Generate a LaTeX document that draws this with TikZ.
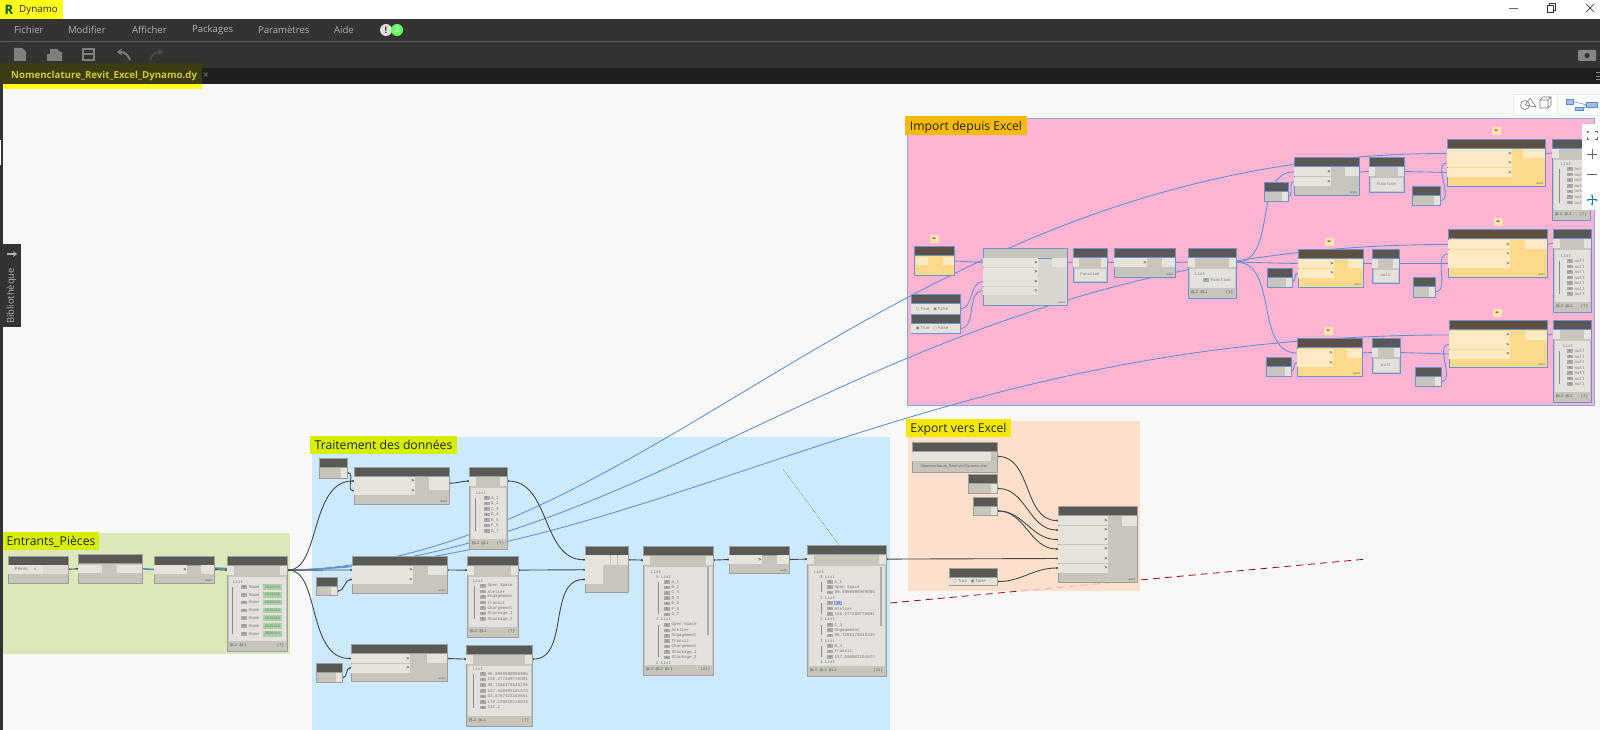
\documentclass[tikz,border=0pt]{standalone}
\usepackage{fontspec}
\setmainfont{Open Sans}
\setmonofont{Liberation Mono}
\newfontfamily\symbfont{DejaVu Sans}
\usetikzlibrary{positioning,arrows.meta}
\pgfdeclarelayer{wires}
\pgfsetlayers{wires,main}
\definecolor{canvasgrey}{HTML}{F8F8F8}
\definecolor{chromedark}{HTML}{333333}
\definecolor{headgrey}{HTML}{5A5855}
\definecolor{headbrown}{HTML}{5C5142}
\definecolor{bodygrey}{HTML}{C8C5BC}
\definecolor{rowlight}{HTML}{E6E3DD}
\definecolor{panelgrey}{HTML}{E4E1DC}
\definecolor{selblue}{HTML}{6C93D0}
\definecolor{wiredark}{HTML}{45484B}
\definecolor{wireblue}{HTML}{5A90D2}
\definecolor{warnbody}{HTML}{FDD98E}
\definecolor{warnrow}{HTML}{FDEAC2}
\definecolor{hlyellow}{HTML}{FFFF1A}
\definecolor{monotxt}{HTML}{77756F}
\definecolor{entrantsfill}{HTML}{DCE8B8}
\definecolor{traitfill}{HTML}{CDEAFD}
\definecolor{exportfill}{HTML}{FEDAC0}
\definecolor{importfill}{HTML}{FEB4D2}
\definecolor{titleA}{HTML}{D8EE00}
\definecolor{titleB}{HTML}{F5E800}
\definecolor{titleC}{HTML}{F6BB00}
\definecolor{olivetab}{HTML}{3C3C12}
\newcommand{\fs}[1]{\fontsize{#1}{#1}\selectfont}
\newcommand{\radoff}{{\symbfont ○}}
\newcommand{\radon}{{\symbfont ◉}}
\tikzset{
    box/.style n args={4}{at={(#1,#2)}, anchor=north west, minimum width={((#3)-(#1))*1pt}, minimum height={((#4)-(#2))*1pt}},
    dynbody/.style={draw=black!38, line width=.7pt, fill=bodygrey, inner sep=0pt, outer sep=0pt},
    selbody/.style={dynbody, draw=selblue},
    warnnode/.style={dynbody, draw=selblue, fill=warnbody},
    dynhead/.style={fill=headgrey, inner sep=0pt, outer sep=0pt},
    dynrow/.style={fill=rowlight, inner sep=0pt, outer sep=0pt, font=\fs{4}\ttfamily, text=monotxt},
    dynin/.style={dynrow, label={[font=\fs{5}\bfseries, text=black!75, inner sep=.3pt, anchor=east]east:>}},
    panel/.style={fill=panelgrey, draw=black!12, line width=.3pt, inner sep=0pt, outer sep=0pt, font=\fs{4}\ttfamily, text=monotxt},
    tinytxt/.style={inner sep=0pt, outer sep=0pt, font=\fs{4}\ttfamily, text=black!65},
    listtxt/.style={inner sep=0pt, outer sep=0pt, font=\fs{4.2}\ttfamily, text=monotxt},
    chip/.style={fill=black!33, inner sep=0pt, outer sep=0pt, minimum width=6pt, minimum height=3.6pt, font=\fs{2.6}\ttfamily, text=black!70},
    listbar/.style={draw=black!45, line width=.5pt},
    grouprect/.style={inner sep=0pt, outer sep=0pt},
    grouptitle/.style={inner sep=0pt, outer sep=0pt, font=\fs{12.2}, text=black!85, text depth=0pt},
    wire/.style={line width=.9pt, color=wiredark, {Circle[length=2pt]}-{Circle[length=2pt]}},
    bluewire/.style={line width=.85pt, color=wireblue},
    warnmark/.style={fill=warnrow!70!warnbody, inner sep=0pt, outer sep=0pt, minimum width=9pt, minimum height=8pt, font=\fs{7}\bfseries},
    menutxt/.style={inner sep=0pt, outer sep=0pt, anchor=west, font=\fs{9.6}, text=black!30},
    toolicon/.style={fill=black!50, draw=none}
}
\newcommand{\dynbox}[6][dynbody]{%
    \node[#1, box={#3}{#4}{#5}{#6}] (#2) {};
    \node[#1, dynhead, box={#3}{#4}{#5}{#4+9.6}] (#2h) {};
}
\newcommand{\warnbox}[5]{%
    \node[warnnode, box={#2}{#3}{#4}{#5}] (#1) {};
    \node[warnnode, fill=headbrown, box={#2}{#3}{#4}{#3+9.6}] (#1h) {};
}
\newcommand{\dynsmall}[6][dynbody]{%
    \dynbox[#1]{#2}{#3}{#4}{#5}{#6}
    \node[dynrow, box={#5-6}{#4+10}{#5}{#6}] (#2o) {};
}
\newcommand{\dynbool}[7][dynbody]{%
    \dynbox[#1]{#2}{#3}{#4}{#5}{#6}
    \node[dynrow, font=\fs{4.2}, box={#3}{#4+10}{#5-7}{#6}] (#2r) {#7};
    \node[dynrow, box={#5-7}{#4+10}{#5}{#6}] (#2o) {};
}
\newcommand{\dynfunc}[6]{%
    \dynbox[selbody]{#1}{#2}{#3}{#4}{#5}
    \node[dynrow, box={#2}{#3+10}{#2+6}{#3+19}] (#1i) {};
    \node[dynrow, box={#4-6}{#3+10}{#4}{#3+19}] (#1o) {};
    \node[panel, box={#2+2}{#3+21}{#4-2}{#5-2}] (#1p) {#6};
}
\newcommand{\dynwatch}[8][dynbody]{%
    \dynbox[#1]{#2}{#3}{#4}{#5}{#6}
    \node[dynrow, box={#3}{#4+9.6}{#3+7}{#4+18.6}] (#2i) {};
    \node[dynrow, box={#5-7}{#4+9.6}{#5}{#4+18.6}] (#2o) {};
    \node[panel, box={#3+2}{#4+21}{#5-2}{#6-11}] (#2p) {};
    \node[tinytxt, anchor=west] (#2f) at ({#3+3},{#6-5.5}) {#7};
    \node[tinytxt, anchor=east] (#2n) at ({#5-3},{#6-5.5}) {(#8)};
}
\newcommand{\listrows}[5]{%
    \foreach \lab [count=\i from 0] in {#5} {
        \node[chip] (#1c\i) at (#2,{#3+\i*#4}) {\i};
        \node[listtxt, right=1.5pt of #1c\i] (#1t\i) {\lab};
    }
}
\newcommand{\autotag}[1]{%
    \node[tinytxt, font=\fs{3}\ttfamily, anchor=south east, xshift=-1.5pt, yshift=1.5pt] (#1tag) at (#1.south east) {auto};
}

\begin{document}
\begin{tikzpicture}[x=1pt, y=-1pt]
    \useasboundingbox (0,0) rectangle (1600,730);

    \begin{pgfonlayer}{wires}
        \node[grouprect, fill=canvasgrey, box={0}{84}{1600}{730}] (canvas) {};
        \coordinate (redA) at (890,603);
        \coordinate (redB) at (1367,559);
        \draw[line width=.8pt, color=red!65!black, dash pattern=on 7pt off 5pt] (redA) -- (redB);
        \node[grouprect, fill=entrantsfill, box={3}{533}{290}{654}] (grpE) {};
        \node[grouprect, fill=traitfill, box={312}{437}{890}{730}] (grpT) {};
        \node[grouprect, fill=exportfill, fill opacity=.8, box={908}{421}{1140}{591}] (grpX) {};
        \node[grouprect, fill=importfill, draw=selblue!80, line width=.7pt, box={907}{118}{1594}{405}] (grpI) {};
    \end{pgfonlayer}

    \node[grouptitle, fill=titleA, box={3}{532}{99}{550}] (grpEt) {Entrants\_Pièces};
    \node[grouptitle, fill=titleA, box={310}{436}{457}{454}] (grpTt) {Traitement des données};
    \node[grouptitle, fill=titleB, box={906}{419}{1011}{437}] (grpXt) {Export vers Excel};
    \node[grouptitle, fill=titleC, box={905}{116}{1027}{135}] (grpIt) {Import depuis Excel};

    % Entrants
    \dynbox{n1}{8}{556}{68}{583}
    \node[dynrow, font=\fs{4.4}, box={8}{564.5}{43}{574}] (n1a) {Pièces\hspace{6pt}v};
    \node[dynrow, fill=rowlight!70!bodygrey, box={43}{564.5}{68}{574}] (n1o) {};
    \dynbox{n2}{78}{554}{142}{583}
    \node[dynrow, box={78}{564.5}{102}{573}] (n2a) {};
    \node[dynrow, box={117}{564.5}{142}{573}] (n2o) {};
    \dynbox{n3}{154}{556}{214}{583}
    \node[dynin, box={154}{565}{187}{574}] (n3a) {};
    \node[dynrow, box={201}{565}{214}{574}] (n3o) {};
    \autotag{n3}
    \dynwatch{n4}{227}{556}{287}{651}{@L2 @L1}{7}
    \node[listtxt, anchor=west] (n4l) at (233,582) {List};
    \foreach \lab [count=\i from 0] in {2629333,2629336,2629339,2629342,2629345,2629348,2629351} {
        \node[chip] (n4c\i) at (244,{587+\i*7.8}) {\i};
        \node[listtxt, right=2pt of n4c\i] (n4t\i) {Room};
        \node[listtxt, fill=green!50!black!35!white, text=black!55, minimum width=19pt, minimum height=5.6pt, font=\fs{3.6}\ttfamily] (n4g\i) at (272.5,{587+\i*7.8}) {\lab};
    }
    \draw[listbar] ([xshift=-9pt]n4c0.west) -- ([xshift=-9pt]n4c6.west);

    % Traitement
    \dynsmall{t1}{319}{458}{347}{478}
    \dynbox{t2}{354}{467}{449}{504}
    \node[dynin, box={354}{476.5}{415}{485.5}] (t2a) {};
    \node[dynin, box={354}{486}{415}{495}] (t2b) {};
    \node[dynrow, box={429}{476.5}{449}{490}] (t2o) {};
    \autotag{t2}
    \dynwatch{t3}{469}{467}{507}{549}{@L2 @L1}{7}
    \node[listtxt, anchor=west] (t3l) at (476,493) {List};
    \listrows{t3}{486.5}{498}{5.5}{A\_1,B\_2,C\_3,D\_4,E\_5,F\_6,G\_7}
    \draw[listbar] ([xshift=-8pt]t3c0.west) -- ([xshift=-8pt]t3c6.west);

    \dynsmall{t4}{316}{577}{337}{595}
    \dynbox{t5}{352}{556}{447}{593}
    \node[dynin, box={352}{565.5}{413}{574.5}] (t5a) {};
    \node[dynin, box={352}{575}{413}{584}] (t5b) {};
    \node[dynrow, box={428}{565.5}{447}{574.5}] (t5o) {};
    \autotag{t5}
    \dynwatch{t6}{467}{556}{518}{637}{@L2 @L1}{7}
    \node[listtxt, anchor=west] (t6l) at (473,581) {List};
    \listrows{t6}{483}{586}{5.5}{Open Space,Atelier,Engagement,Transit,Chargement,Stockage\_1,Stockage\_2}
    \draw[listbar] ([xshift=-6pt]t6c0.west) -- ([xshift=-6pt]t6c6.west);

    \dynsmall{t7}{316}{663}{342}{682}
    \dynbox{t8}{351}{644}{447}{681}
    \node[dynin, box={351}{654}{410}{663}] (t8a) {};
    \node[dynin, box={351}{663.5}{410}{672.5}] (t8b) {};
    \node[dynrow, box={427}{654}{447}{663}] (t8o) {};
    \autotag{t8}
    \dynwatch{t9}{466}{645}{532}{726}{@L2 @L1}{7}
    \node[listtxt, anchor=west] (t9l) at (473,669) {List};
    \listrows{t9}{483}{674}{5.6}{99.9999999999995,158.277289770891,98.7286178545235,157.500983101573,63.8787323163851,178.129829128818,131.2}
    \draw[listbar] ([xshift=-7pt]t9c0.west) -- ([xshift=-7pt]t9c6.west);

    \dynbox{j1}{585}{546}{628}{592}
    \node[dynrow, box={585}{555}{603}{564.5}] (j1a) {};
    \node[dynrow, box={585}{565}{603}{574.5}] (j1b) {};
    \node[dynrow, box={585}{575}{603}{584}] (j1c) {};
    \node[dynrow, box={603}{555}{610}{564.5}] (j1x) {};
    \node[dynrow, box={611}{555}{617}{564.5}] (j1y) {};
    \node[dynrow, box={618}{555}{628}{564.5}] (j1o) {};

    \dynwatch{j2}{643}{546}{713}{675}{@L3 @L2 @L1}{21}
    \node[fill=black!32, inner sep=0pt, box={707}{567}{709}{635}] (j2s) {};
    \node[listtxt, anchor=west] (j2l) at (651,572) {List};
    \node[listtxt, anchor=west] (j2l0) at (656,577) {0 List};
    \listrows{j2a}{667}{582}{5.4}{A\_1,B\_2,C\_3,D\_4,E\_5,F\_6,G\_7}
    \node[listtxt, anchor=west] (j2l1) at (656,619) {1 List};
    \listrows{j2b}{667}{625}{5.4}{Open Space,Atelier,Engagement,Transit,Chargement,Stockage\_1,Stockage\_2}
    \node[listtxt, anchor=west] (j2l2) at (656,663) {2 List};
    \draw[listbar] ([xshift=-6pt]j2ac0.west) -- ([xshift=-6pt]j2ac6.west);
    \draw[listbar] ([xshift=-6pt]j2bc0.west) -- ([xshift=-6pt]j2bc6.west);

    \dynbox{j3}{729}{546}{789}{573}
    \node[dynin, box={729}{555}{762}{564}] (j3a) {};
    \node[dynrow, box={777}{555}{789}{564}] (j3o) {};
    \autotag{j3}

    \dynwatch{j4}{807}{545}{886}{676}{@L3 @L2 @L1}{21}
    \node[fill=black!32, inner sep=0pt, box={880}{567}{882}{626}] (j4s) {};
    \node[listtxt, anchor=west] (j4l) at (814,572) {List};
    \node[listtxt, anchor=west] (j4l0) at (820,577) {0 List};
    \listrows{j4a}{830}{582}{5.2}{A\_1,Open Space,99.9999999999995}
    \node[listtxt, anchor=west] (j4l1) at (820,598) {1 List};
    \listrows{j4b}{830}{603}{5.5}{A\_2,Atelier,158.277289770891}
    \node[listtxt, fill=selblue!90, text=white, minimum width=8pt] (j4hl) at (j4bt0) {A\_2};
    \node[listtxt, anchor=west] (j4l2) at (820,619) {2 List};
    \listrows{j4c}{830}{625}{5.2}{C\_3,Engagement,98.7286178545235}
    \node[listtxt, anchor=west] (j4l3) at (820,641) {3 List};
    \listrows{j4d}{830}{646}{5.4}{D\_4,Transit,157.500983101573}
    \node[listtxt, anchor=west] (j4l4) at (820,662) {4 List};
    \draw[listbar] ([xshift=-6pt]j4ac0.west) -- ([xshift=-6pt]j4ac2.west);
    \draw[listbar] ([xshift=-6pt]j4bc0.west) -- ([xshift=-6pt]j4bc2.west);
    \draw[listbar] ([xshift=-6pt]j4cc0.west) -- ([xshift=-6pt]j4cc2.west);
    \draw[listbar] ([xshift=-6pt]j4dc0.west) -- ([xshift=-6pt]j4dc2.west);

    % Export
    \dynbox{e1}{912}{442}{997}{472}
    \node[dynrow, box={912}{452}{991}{461}] (e1a) {};
    \node[dynrow, fill=rowlight!85!black, box={991}{452}{997}{461}] (e1o) {};
    \node[tinytxt, font=\fs{3.8}] (e1t) at (954,466.5) {\textbackslash Nomenclature\_Revit via Dynamo.xlsx};
    \dynsmall{e2}{968}{474}{997}{493}
    \dynsmall{e3}{973}{497}{997}{515}
    \dynbool{e4}{949}{568}{997}{585}{\radoff\ True\hspace{4pt}\radon\ False}
    \dynbox{e5}{1058}{506}{1137}{582}
    \node[dynin, box={1058}{516}{1108}{525}] (e5a) {};
    \node[dynin, box={1058}{525.5}{1108}{534.5}] (e5b) {};
    \node[dynin, box={1058}{535}{1108}{544}] (e5c) {};
    \node[dynin, box={1058}{544.5}{1108}{553.5}] (e5d) {};
    \node[dynin, box={1058}{554}{1108}{563}] (e5e) {};
    \node[dynin, box={1058}{563.5}{1108}{572.5}] (e5f) {};
    \node[dynrow, box={1122}{516}{1137}{526}] (e5o) {};
    \autotag{e5}

    % Import
    \warnbox{i1}{914}{246}{954}{275}
    \node[warnmark] (i1w) at (934,239) {--};
    \node[dynrow, fill=warnrow, box={916}{257}{928}{265}] (i1a) {};
    \node[dynrow, fill=warnrow, box={943}{257}{954}{265}] (i1o) {};
    \dynbool[selbody]{i2}{911}{294}{960}{314}{\radoff\ True\hspace{4pt}\radon\ False}
    \dynbool[selbody]{i3}{911}{314}{960}{333}{\radon\ True\hspace{4pt}\radoff\ False}
    \node[selbody, fill=bodygrey!70!white, box={983}{248}{1067}{305}] (i4) {};
    \node[selbody, fill=bodygrey, box={983}{248}{1067}{258}] (i4h) {};
    \node[dynin, box={983}{258}{1038}{267}] (i4a) {};
    \node[dynin, box={983}{267.5}{1038}{276.5}] (i4b) {};
    \node[dynin, box={983}{277}{1038}{286}] (i4c) {};
    \node[dynin, box={983}{286.5}{1038}{295}] (i4d) {};
    \node[dynrow, box={1052}{258}{1066.5}{267}] (i4o) {};
    \autotag{i4}
    \dynfunc{i5}{1073}{248}{1107}{282}{Function}
    \dynbox[selbody]{i6}{1114}{248}{1175}{277}
    \node[dynin, box={1114}{258}{1147}{267}] (i6a) {};
    \node[dynrow, box={1162}{258}{1175}{267}] (i6o) {};
    \autotag{i6}
    \dynwatch[selbody]{i7}{1188}{248}{1236}{298}{@L2 @L1}{1}
    \node[listtxt, anchor=west] (i7l) at (1195,274) {List};
    \listrows{i7}{1206}{280}{5}{Function}

    \dynsmall[selbody]{r1}{1264}{182}{1288}{201}
    \dynbox[selbody]{r2}{1294}{157}{1359}{195}
    \node[dynin, box={1294}{167.5}{1331}{176.5}] (r2a) {};
    \node[dynin, box={1294}{177}{1331}{186}] (r2b) {};
    \node[dynrow, box={1345}{167.5}{1359}{176.5}] (r2o) {};
    \autotag{r2}
    \dynfunc{r3}{1369}{157}{1404}{192}{Function}
    \dynsmall[selbody]{r4}{1412}{186}{1440}{205}
    \warnbox{r5}{1447}{139}{1545}{186}
    \node[warnmark] (r5w) at (1496,131) {--};
    \node[dynin, fill=warnrow, box={1447}{149}{1512}{158}] (r5a) {};
    \node[dynin, fill=warnrow, box={1447}{158.5}{1512}{167.5}] (r5b) {};
    \node[dynin, fill=warnrow, box={1447}{168}{1512}{177}] (r5c) {};
    \node[dynrow, fill=warnrow, box={1523}{149}{1545}{158}] (r5o) {};
    \autotag{r5}
    \dynwatch[selbody]{r6}{1552}{139}{1590}{220}{@L2 @L1}{7}
    \node[listtxt, anchor=west] (r6l) at (1561,164) {List};
    \listrows{r6}{1570}{169}{5.6}{null,null,null,null,null,null,null}
    \draw[listbar] ([xshift=-8pt]r6c0.west) -- ([xshift=-8pt]r6c6.west);

    \dynsmall[selbody]{m1}{1267}{268}{1292}{287}
    \warnbox{m2}{1298}{249}{1363}{287}
    \node[warnmark] (m2w) at (1329,242) {--};
    \node[dynin, fill=warnrow, box={1298}{259}{1334}{268}] (m2a) {};
    \node[dynin, fill=warnrow, box={1298}{268.5}{1334}{277.5}] (m2b) {};
    \node[dynrow, fill=warnrow, box={1348}{259}{1363}{268}] (m2o) {};
    \autotag{m2}
    \dynfunc{m3}{1372}{249}{1399}{283}{null}
    \dynsmall[selbody]{m4}{1413}{277}{1435}{297}
    \warnbox{m5}{1448}{229}{1547}{277}
    \node[warnmark] (m5w) at (1498,222) {--};
    \node[dynin, fill=warnrow, box={1448}{240}{1510}{249}] (m5a) {};
    \node[dynin, fill=warnrow, box={1448}{249.5}{1510}{258.5}] (m5b) {};
    \node[dynin, fill=warnrow, box={1448}{259}{1510}{268}] (m5c) {};
    \node[dynrow, fill=warnrow, box={1525}{240}{1547}{249}] (m5o) {};
    \autotag{m5}
    \dynwatch[selbody]{m6}{1553}{229}{1591}{312}{@L2 @L1}{7}
    \node[listtxt, anchor=west] (m6l) at (1561,256) {List};
    \listrows{m6}{1570}{261}{5.5}{null,null,null,null,null,null,null}
    \draw[listbar] ([xshift=-8pt]m6c0.west) -- ([xshift=-8pt]m6c6.west);

    \dynsmall[selbody]{b1}{1266}{357}{1291}{376}
    \warnbox{b2}{1297}{338}{1362}{376}
    \node[warnmark] (b2w) at (1328,331) {--};
    \node[dynin, fill=warnrow, box={1297}{348.5}{1333}{357.5}] (b2a) {};
    \node[dynin, fill=warnrow, box={1297}{358}{1333}{367}] (b2b) {};
    \node[dynrow, fill=warnrow, box={1347}{348.5}{1362}{357.5}] (b2o) {};
    \autotag{b2}
    \dynfunc{b3}{1372}{338}{1400}{373}{null}
    \dynsmall[selbody]{b4}{1415}{367}{1441}{386}
    \warnbox{b5}{1449}{320}{1547}{367}
    \node[warnmark] (b5w) at (1497,313) {--};
    \node[dynin, fill=warnrow, box={1449}{330.5}{1510}{339.5}] (b5a) {};
    \node[dynin, fill=warnrow, box={1449}{340}{1510}{349}] (b5b) {};
    \node[dynin, fill=warnrow, box={1449}{349.5}{1510}{358.5}] (b5c) {};
    \node[dynrow, fill=warnrow, box={1525}{330.5}{1547}{339.5}] (b5o) {};
    \autotag{b5}
    \dynwatch[selbody]{b6}{1553}{320}{1591}{402}{@L2 @L1}{7}
    \node[listtxt, anchor=west] (b6l) at (1563,346) {List};
    \listrows{b6}{1570}{351}{5.5}{null,null,null,null,null,null,null}
    \draw[listbar] ([xshift=-8pt]b6c0.west) -- ([xshift=-8pt]b6c6.west);

    % wires
    \begin{pgfonlayer}{wires}
        \coordinate (greenA) at (783,469);
        \coordinate (greenB) at (839,545);
        \draw[line width=.5pt, color=green!55!black, densely dotted] (greenA) -- (greenB);

        \draw[bluewire] (n4o.east) .. controls (655,564) and (895,153) .. (r5a.west);
        \draw[bluewire] (n4o.east) .. controls (665,564) and (896,244) .. (m5a.west);
        \draw[bluewire] (n4o.east) .. controls (660,564) and (908,335) .. (b5a.west);

        \draw[wire] (n1o.east) -- (n2a.west);
        \draw[line width=1.6pt, color=cyan!45!blue!70!white] (n2o.east) -- (n3a.west);
        \draw[line width=1.5pt, color=cyan!45!blue!70!white] ([yshift=1.5pt]n3o.east) -- ([yshift=1.5pt]n4i.west);
        \draw[wire] (n3o.east) -- (n4i.west);
        \draw[wire] (n4o.east) .. controls +(33,0) and +(-44,0) .. (t2a.west);
        \draw[wire] (n4o.east) -- (t5a.west);
        \draw[wire] (n4o.east) .. controls +(33,0) and +(-44,0) .. (t8a.west);

        \draw[wire] (t1o.east) to[out=0, in=180] (t2b.west);
        \draw[wire] (t2o.east) to[out=0, in=180] (t3i.west);
        \draw[wire] (t3o.east) to[out=0, in=180] (j1a.west);
        \draw[wire] (t4o.east) to[out=0, in=180] (t5b.west);
        \draw[wire] (t5o.east) -- (t6i.west);
        \draw[wire] (t6o.east) -- (j1b.west);
        \draw[wire] (t7o.east) to[out=0, in=180] (t8b.west);
        \draw[wire] (t8o.east) -- (t9i.west);
        \draw[wire] (t9o.east) to[out=0, in=180] (j1c.west);
        \draw[wire] (j1o.east) -- (j2i.west);
        \draw[wire] (j2o.east) -- (j3a.west);
        \draw[wire] (j3o.east) -- (j4i.west);

        \draw[wire] (e1o.east) to[out=0, in=180] (e5a.west);
        \draw[wire] (e2o.east) to[out=0, in=180] (e5b.west);
        \draw[wire] (e3o.east) to[out=0, in=180] (e5c.west);
        \draw[wire] (e3o.east) to[out=0, in=180] (e5d.west);
        \draw[wire] (j4o.east) -- (e5e.west);
        \draw[wire] (e4o.east) to[out=0, in=180] (e5f.west);

        \draw[bluewire] (i1o.east) -- (i4a.west);
        \draw[bluewire] (i2o.east) to[out=0, in=180] (i4c.west);
        \draw[bluewire] (i3o.east) to[out=0, in=180] (i4d.west);
        \draw[bluewire] (i4o.east) -- (i5i.west);
        \draw[bluewire] (i5o.east) -- (i6a.west);
        \draw[bluewire] (i6o.east) -- (i7i.west);
        \draw[bluewire] (i7o.east) to[out=0, in=180] (r2a.west);
        \draw[bluewire] (i7o.east) -- (m2a.west);
        \draw[bluewire] (i7o.east) to[out=0, in=180] (b2a.west);

        \draw[bluewire] (r1o.east) to[out=0, in=180] (r2b.west);
        \draw[bluewire] (r2o.east) -- (r3i.west);
        \draw[bluewire] (r3o.east) -- (r5c.west);
        \draw[bluewire] (r4o.east) to[out=0, in=180] (r5b.west);
        \draw[bluewire] (r5o.east) -- (r6i.west);

        \draw[bluewire] (m1o.east) to[out=0, in=180] (m2b.west);
        \draw[bluewire] (m2o.east) -- (m3i.west);
        \draw[bluewire] (m3o.east) -- (m5c.west);
        \draw[bluewire] (m4o.east) to[out=0, in=180] (m5b.west);
        \draw[bluewire] (m5o.east) -- (m6i.west);

        \draw[bluewire] (b1o.east) to[out=0, in=180] (b2b.west);
        \draw[bluewire] (b2o.east) -- (b3i.west);
        \draw[bluewire] (b3o.east) -- (b5c.west);
        \draw[bluewire] (b4o.east) to[out=0, in=180] (b5b.west);
        \draw[bluewire] (b5o.east) -- (b6i.west);
    \end{pgfonlayer}

    % window
    \node[fill=white, inner sep=0pt, box={0}{0}{1600}{19}] (titlebar) {};
    \node[fill=hlyellow, inner sep=0pt, box={0}{0}{63}{19}] (titlehl) {};
    \node[inner sep=0pt, font=\fs{13}\bfseries, text=green!35!black] (ricon) at (9,10) {R};
    \node[inner sep=0pt, anchor=west, font=\fs{9.8}, text=black!85] (titletxt) at (19,10) {Dynamo};
    \draw[black!60, line width=.8pt] (1509,8.5) -- (1518,8.5);
    \draw[black!80, line width=.7pt] (1547,5.5) rectangle (1553.5,12) (1549,5.5) -- (1549,3.5) -- (1555.5,3.5) -- (1555.5,10) -- (1553.5,10);
    \draw[black!75, line width=.7pt] (1586,4) -- (1594,12) (1594,4) -- (1586,12);
    \node[fill=chromedark, inner sep=0pt, box={0}{19}{1600}{68}] (menubar) {};
    \draw[white!20!chromedark, line width=.4pt] (0,41) -- (1600,41);
    \node[fill=black!88, inner sep=0pt, box={0}{68}{1600}{84}] (tabbar) {};
    \node[menutxt] (mfile) at (14,30) {Fichier};
    \node[menutxt] (medit) at (68,30) {Modifier};
    \node[menutxt] (mview) at (132,30) {Afficher};
    \node[menutxt] (mpack) at (192,30) {Packages};
    \node[menutxt] (mpara) at (258,30) {Paramètres};
    \node[menutxt] (mhelp) at (334,30) {Aide};
    \node[circle, fill=black!12, inner sep=0pt, minimum size=12pt, font=\fs{9}\bfseries, text=black!80] (alert) at (386,30) {!};
    \node[circle, fill=green!60!white, inner sep=0pt, minimum size=12pt, font=\fs{8}, text=white] (notif) at (397,30) {3};
    \fill[toolicon] (14,48) -- (22,48) -- (26,52) -- (26,61) -- (14,61) -- cycle;
    \fill[toolicon] (47,54) -- (50,54) -- (50,49) -- (57,49) -- (60,52) -- (62,52) -- (62,61) -- (47,61) -- cycle;
    \draw[black!50, line width=1.6pt] (83,49) rectangle (94,60) (83,54) -- (94,54);
    \draw[black!50, line width=1.8pt, -{Stealth[length=5pt, width=7pt]}] (130,60) .. controls (128,54) and (124,52) .. (117,52);
    \draw[black!70, line width=1.8pt, -{Stealth[length=5pt, width=7pt]}] (150,60) .. controls (152,54) and (156,52) .. (163,52);
    \fill[black!48, rounded corners=1pt] (1578,50) rectangle (1596,61);
    \fill[black!80] (1587,55.5) circle (2.6pt);
    \draw[black!45, line width=1pt] (1596,73) -- (1600,73) (1596,76.5) -- (1600,76.5) (1596,80) -- (1600,80);
    \node[fill=olivetab, inner sep=0pt, box={0}{63}{202}{84}] (tabhl) {};
    \node[fill=hlyellow, inner sep=0pt, box={3}{84}{202}{89}] (tabline) {};
    \node[inner sep=0pt, anchor=west, font=\fs{9.7}\bfseries, text=yellow!80!black] (tabtxt) at (11,76) {Nomenclature\_Revit\_Excel\_Dynamo.dy};
    \node[inner sep=0pt, font=\fs{10}, text=black!50] (tabx) at (206,76) {×};
    \fill[chromedark] (0,84) rectangle (3,730);
    \fill[white] (0,140) rectangle (1,165);
    \node[fill=chromedark, inner sep=0pt, box={3}{244}{21}{327}] (libtab) {};
    \node[rotate=90, inner sep=0pt, font=\fs{9.4}, text=black!30] (libtxt) at (11.5,296) {Bibliothèque};
    \draw[black!30, line width=1.5pt, -{Stealth[length=4pt, width=6pt]}] (7,254) -- (17,254);

    % view controls
    \node[fill=white, draw=black!8, line width=.5pt, inner sep=0pt, box={1513}{94}{1600}{115}] (viewbar) {};
    \draw[black!8, line width=.5pt] (1557.5,94) -- (1557.5,115);
    \draw[black!55, line width=.6pt] (1525,105) circle (4.5pt) (1525,105) -- (1530,98) -- (1536,107) -- cycle;
    \draw[black!55, line width=.6pt] (1540,100) rectangle (1548,108) (1540,100) -- (1543,97) -- (1551,97) -- (1548,100) (1551,97) -- (1551,105) -- (1548,108);
    \node[fill=cyan!50!blue!35!white, draw=cyan!50!blue!70!white, line width=.5pt, inner sep=0pt, box={1566}{99}{1573}{104}] (viewa) {};
    \node[fill=cyan!50!blue!35!white, draw=cyan!50!blue!70!white, line width=.5pt, inner sep=0pt, box={1575}{107}{1583}{110}] (viewb) {};
    \node[fill=cyan!50!blue!35!white, draw=cyan!50!blue!70!white, line width=.5pt, inner sep=0pt, box={1586}{102}{1597}{107}] (viewc) {};
    \draw[cyan!50!blue!70!white, line width=.5pt] (viewa.east) -- (viewc.west) (viewb.east) -- (viewc.west);
    \node[fill=white, inner sep=0pt, box={1582}{124}{1600}{210}] (navbar) {};
    \draw[black!60, line width=.7pt] (1587,133) -- (1587,131) -- (1589,131) (1595,131) -- (1597,131) -- (1597,133) (1587,137) -- (1587,139) -- (1589,139) (1595,139) -- (1597,139) -- (1597,137);
    \draw[black!60, line width=.8pt] (1587,154) -- (1597,154) (1592,149) -- (1592,159);
    \draw[black!60, line width=.8pt] (1587,174) -- (1597,174);
    \draw[cyan!55!blue, line width=1pt, {Stealth[length=3pt]}-{Stealth[length=3pt]}] (1586,200) -- (1598,200);
    \draw[cyan!55!blue, line width=1pt, {Stealth[length=3pt]}-{Stealth[length=3pt]}] (1592,194) -- (1592,206);
\end{tikzpicture}
\end{document}
